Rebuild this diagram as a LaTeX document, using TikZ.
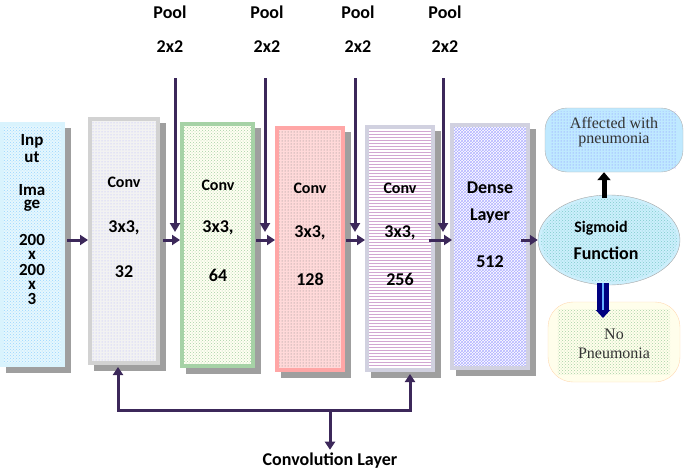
\documentclass[tikz,border=0pt]{standalone}
\usepackage{fontspec}
\setmainfont{Carlito}
\newfontfamily\serifF{Liberation Serif}
\usetikzlibrary{patterns,arrows.meta,shapes.geometric}
\definecolor{arr}{RGB}{60,40,90}
\begin{document}
\begin{tikzpicture}[x=1pt,y=-1pt,
  conn/.style={arr,line width=3pt,-{Triangle[length=8pt,width=10pt]}},
  lbl/.style={font=\bfseries\fontsize{18}{19}\selectfont},
  slbl/.style={font=\bfseries\fontsize{16}{17}\selectfont},
  ilbl/.style={font=\bfseries\fontsize{17}{17}\selectfont,inner sep=0pt},
  sfont/.style={font=\serifF\fontsize{16}{15}\selectfont}]
\useasboundingbox (0,0) rectangle (685,474);
% shadows
\foreach \a/\b/\c/\d in {0/122/65/367,88/117/160/365,180/122/255/368,275/126/345/372,365/125/435/372,450/123/530/370}
  \fill[gray!75] (\a+6,\b+6) rectangle (\c+6,\d+6);
% input
\fill[cyan!10] (2,124) rectangle (63,365);
\fill[pattern=crosshatch dots,pattern color=cyan!60!blue!40] (2,124) rectangle (63,365);
\draw[cyan!15,line width=4pt] (2,124) rectangle (63,365);
\foreach \t/\y/\n in {Inp/141/1,ut/157/2,Ima/190/3,ge/206/4,200/240/5,x/255/6,200/270/7,x/285/8,3/299/9}
  \node[ilbl] (in\n) at (32,\y) {\t};
% conv1
\fill[gray!10] (90,119) rectangle (158,363);
\fill[pattern=dots,pattern color=blue!30] (90,119) rectangle (158,363);
\draw[gray!35,line width=4pt] (90,119) rectangle (158,363);
\node[slbl] (t1) at (124,182) {Conv};
\node[lbl] at (124,228) {3x3,};
\node[lbl] at (124,272) {32};
% conv2
\fill[yellow!5] (182,124) rectangle (253,366);
\fill[pattern=crosshatch dots,pattern color=green!50!black!35] (182,124) rectangle (253,366);
\draw[green!50!black!35,line width=4pt] (182,124) rectangle (253,366);
\node[slbl] at (218,185) {Conv};
\node[lbl] at (218,228) {3x3,};
\node[lbl] at (218,275) {64};
% conv3
\fill[red!15] (277,128) rectangle (343,370);
\fill[pattern=dots,pattern color=black!50] (277,128) rectangle (343,370);
\draw[red!35,line width=4pt] (277,128) rectangle (343,370);
\node[slbl] at (310,188) {Conv};
\node[lbl] at (310,233) {3x3,};
\node[lbl] at (310,279) {128};
% conv4
\fill[white] (367,127) rectangle (433,370);
\fill[pattern=horizontal lines,pattern color=blue!50!red!35] (367,127) rectangle (433,370);
\draw[blue!20!gray!30,line width=4pt] (367,127) rectangle (433,370);
\node[slbl] at (400,188) {Conv};
\node[lbl] at (400,233) {3x3,};
\node[lbl] at (400,279) {256};
% dense
\fill[white] (452,125) rectangle (528,368);
\fill[pattern=crosshatch,pattern color=blue!30] (452,125) rectangle (528,368);
\draw[blue!20!gray!30,line width=4pt] (452,125) rectangle (528,368);
\node[lbl] at (490,188) {Dense};
\node[lbl] at (490,216) {Layer};
\node[lbl] at (490,262) {512};
% named anchors for connectors
\coordinate (inR) at (67,240); \coordinate (c1L) at (88,240);
\coordinate (c1R) at (163,240); \coordinate (c2L) at (180,240);
\coordinate (c2R) at (256,240); \coordinate (c3L) at (275,240);
\coordinate (c3R) at (346,240); \coordinate (c4L) at (365,240);
\coordinate (c4R) at (429,240); \coordinate (dL) at (452,240);
\coordinate (dR) at (521,240);
% outputs
\node[draw=gray!60,fill=blue!35!cyan!25,rounded corners=22pt,minimum width=138pt,minimum height=64pt] (aff) at (614,140) {};
\fill[pattern=dots,pattern color=blue!50] ([xshift=6pt,yshift=-4pt]aff.north west) rectangle ([xshift=-6pt,yshift=4pt]aff.south east);
\node[sfont,align=center,text=black!80] at (614,132) {Affected with\\pneumonia};
\node[draw=gray!70,fill=cyan!20,ellipse,minimum width=142pt,minimum height=90pt] (sig) at (609,240) {};
\fill[pattern=crosshatch dots,pattern color=cyan!60!black!50] (609,240) ellipse (68pt and 42pt);
\node[slbl] at (601,228) {Sigmoid};
\node[lbl] at (606,253) {Function};
\node[draw=orange!30,fill=yellow!8,rounded corners=25pt,minimum width=132pt,minimum height=80pt] (no) at (614,342) {};
\fill[pattern=crosshatch dots,pattern color=green!50!black!35] ([xshift=10pt,yshift=-8pt]no.north west) rectangle ([xshift=-10pt,yshift=8pt]no.south east);
\node[sfont,align=center,text=black!80] at (614,344) {No\\[4pt]Pneumonia};
% arrows
\draw[conn] (inR) -- (c1L);
\draw[conn] (c1R) -- (c2L);
\draw[conn] (c2R) -- (c3L);
\draw[conn] (c3R) -- (c4L);
\draw[conn] (c4R) -- (dL);
\draw[conn] (dR) -- (sig.west);
\draw[black,line width=5pt,-{Triangle[length=8pt,width=13pt]}] (604,198) -- (aff.south -| 604,0);
\draw[blue!50!black,line width=5pt,double=blue!50!cyan!60,double distance=1.5pt,-{Triangle[length=8pt,width=14pt]}] (603,283) -- (603,318);
% pools
\foreach \x/\lx/\n in {175/170/1,265/267/2,355/358/3,443/445/4}{
  \node[lbl] (p\n) at (\lx,12) {Pool};
  \node[lbl] (q\n) at (\lx,47) {2x2};
  \draw[arr,line width=3pt,-{Triangle[length=9pt,width=10pt]}] (\x,78) -- (\x,232);
}
% bottom
\coordinate (b1) at (118,367); \coordinate (b2) at (410,374);
\coordinate (j) at (330,410);
\draw[arr,line width=3pt,{Triangle[length=8pt,width=10pt]}-{Triangle[length=8pt,width=10pt]}] (b1) -- (118,410) -- (410,410) -- (b2);
\node[lbl] (cl) at (330,461) {Convolution Layer};
\draw[arr,line width=3pt,-{Triangle[length=8pt,width=10pt]}] (j) -- (cl.north);
\end{tikzpicture}
\end{document}
